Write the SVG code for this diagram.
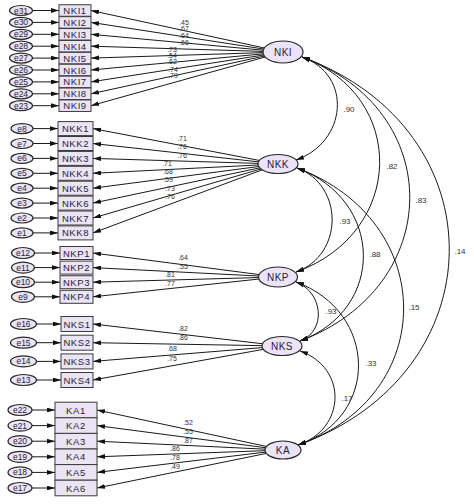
<svg xmlns="http://www.w3.org/2000/svg" width="474" height="504" viewBox="0 0 474 504">
<style>
.bg{fill:#ffffff}
.box{fill:#ebe4f4;stroke:#3a3a3a;stroke-width:1}
.err{fill:#ebe4f4;stroke:#2a2a2a;stroke-width:1.2}
.lat{fill:#ece4f6;stroke:#2a2a2a;stroke-width:1.2}
.bt{font-family:"Liberation Sans",Arial,sans-serif;font-size:9.5px;fill:#1e1e40;text-anchor:middle;letter-spacing:0.6px}
.et{font-family:"Liberation Sans",Arial,sans-serif;font-size:8.5px;fill:#1e1e40;text-anchor:middle}
.lt{font-family:"Liberation Sans",Arial,sans-serif;font-size:10px;fill:#1e1e40;text-anchor:middle;letter-spacing:0.5px}
.ct{font-family:"Liberation Sans",Arial,sans-serif;font-size:7px;fill:#333;text-anchor:middle}
.rt{font-family:"Liberation Sans",Arial,sans-serif;font-size:8px;fill:#333;text-anchor:middle}
.ln{stroke:#1a1a1a;stroke-width:1;fill:none;marker-end:url(#ah)}
.cv{stroke:#1a1a1a;stroke-width:1;fill:none;marker-start:url(#ah);marker-end:url(#ah)}
</style>
<defs>
<marker id="ah" viewBox="0 0 10 6" refX="10" refY="3" markerWidth="8" markerHeight="4.8" markerUnits="userSpaceOnUse" orient="auto-start-reverse">
<path d="M0,0 L10,3 L0,6 z" fill="#111"/>
</marker>
</defs>
<rect class="bg" x="0" y="0" width="474" height="504"/>
<g id="connectors">
<!-- error arrows NKI -->
<line class="ln" x1="32.5" y1="10.5" x2="59" y2="10.5"/>
<line class="ln" x1="32.5" y1="22.4" x2="59" y2="22.4"/>
<line class="ln" x1="32.5" y1="34.3" x2="59" y2="34.3"/>
<line class="ln" x1="32.5" y1="46.2" x2="59" y2="46.2"/>
<line class="ln" x1="32.5" y1="58.1" x2="59" y2="58.1"/>
<line class="ln" x1="32.5" y1="70" x2="59" y2="70"/>
<line class="ln" x1="32.5" y1="81.9" x2="59" y2="81.9"/>
<line class="ln" x1="32.5" y1="93.8" x2="59" y2="93.8"/>
<line class="ln" x1="32.5" y1="105.7" x2="59" y2="105.7"/>
<!-- error arrows NKK -->
<line class="ln" x1="33" y1="128.6" x2="58" y2="128.6"/>
<line class="ln" x1="33" y1="143.5" x2="58" y2="143.5"/>
<line class="ln" x1="33" y1="158.4" x2="58" y2="158.4"/>
<line class="ln" x1="33" y1="173.3" x2="58" y2="173.3"/>
<line class="ln" x1="33" y1="188.2" x2="58" y2="188.2"/>
<line class="ln" x1="33" y1="203.1" x2="58" y2="203.1"/>
<line class="ln" x1="33" y1="218" x2="58" y2="218"/>
<line class="ln" x1="33" y1="232.9" x2="58" y2="232.9"/>
<!-- error arrows NKP -->
<line class="ln" x1="34.5" y1="253" x2="60" y2="253"/>
<line class="ln" x1="34.5" y1="267.6" x2="60" y2="267.6"/>
<line class="ln" x1="34.5" y1="282.2" x2="60" y2="282.2"/>
<line class="ln" x1="34.5" y1="296.8" x2="60" y2="296.8"/>
<!-- error arrows NKS -->
<line class="ln" x1="36.5" y1="324" x2="61" y2="324"/>
<line class="ln" x1="36.5" y1="342.7" x2="61" y2="342.7"/>
<line class="ln" x1="36.5" y1="361.4" x2="61" y2="361.4"/>
<line class="ln" x1="36.5" y1="380" x2="61" y2="380"/>
<!-- error arrows KA -->
<line class="ln" x1="32" y1="410" x2="55" y2="410"/>
<line class="ln" x1="32" y1="425.6" x2="55" y2="425.6"/>
<line class="ln" x1="32" y1="441.2" x2="55" y2="441.2"/>
<line class="ln" x1="32" y1="456.8" x2="55" y2="456.8"/>
<line class="ln" x1="32" y1="472.4" x2="55" y2="472.4"/>
<line class="ln" x1="32" y1="488" x2="55" y2="488"/>
<!-- loadings NKI -->
<line class="ln" x1="283" y1="52" x2="91" y2="10.5"/>
<line class="ln" x1="283" y1="52" x2="91" y2="22.4"/>
<line class="ln" x1="283" y1="52" x2="91" y2="34.3"/>
<line class="ln" x1="283" y1="52" x2="91" y2="46.2"/>
<line class="ln" x1="283" y1="52" x2="91" y2="58.1"/>
<line class="ln" x1="283" y1="52" x2="91" y2="70"/>
<line class="ln" x1="283" y1="52" x2="91" y2="81.9"/>
<line class="ln" x1="283" y1="52" x2="91" y2="93.8"/>
<line class="ln" x1="283" y1="52" x2="91" y2="105.7"/>
<!-- loadings NKK -->
<line class="ln" x1="278" y1="164" x2="93" y2="128.6"/>
<line class="ln" x1="278" y1="164" x2="93" y2="143.5"/>
<line class="ln" x1="278" y1="164" x2="93" y2="158.4"/>
<line class="ln" x1="278" y1="164" x2="93" y2="173.3"/>
<line class="ln" x1="278" y1="164" x2="93" y2="188.2"/>
<line class="ln" x1="278" y1="164" x2="93" y2="203.1"/>
<line class="ln" x1="278" y1="164" x2="93" y2="218"/>
<line class="ln" x1="278" y1="164" x2="93" y2="232.9"/>
<!-- loadings NKP -->
<line class="ln" x1="278" y1="277" x2="93" y2="253"/>
<line class="ln" x1="278" y1="277" x2="93" y2="267.6"/>
<line class="ln" x1="278" y1="277" x2="93" y2="282.2"/>
<line class="ln" x1="278" y1="277" x2="93" y2="296.8"/>
<!-- loadings NKS -->
<line class="ln" x1="282" y1="346" x2="93" y2="324"/>
<line class="ln" x1="282" y1="346" x2="93" y2="342.7"/>
<line class="ln" x1="282" y1="346" x2="93" y2="361.4"/>
<line class="ln" x1="282" y1="346" x2="93" y2="380"/>
<!-- loadings KA -->
<line class="ln" x1="283" y1="450" x2="97" y2="410"/>
<line class="ln" x1="283" y1="450" x2="97" y2="425.6"/>
<line class="ln" x1="283" y1="450" x2="97" y2="441.2"/>
<line class="ln" x1="283" y1="450" x2="97" y2="456.8"/>
<line class="ln" x1="283" y1="450" x2="97" y2="472.4"/>
<line class="ln" x1="283" y1="450" x2="97" y2="488"/>
<!-- correlations -->
<path class="cv" d="M302,57 C353,75 347,142 296,160"/>
<path class="cv" d="M302,57 C408,96 405,233 296,272"/>
<path class="cv" d="M302,57 C447,110 445,287 300,341"/>
<path class="cv" d="M302,57 C501,130 497,374 298,445"/>
<path class="cv" d="M297,168 C344,185 344,255 296,272"/>
<path class="cv" d="M297,168 C384,200 386,309 300,341"/>
<path class="cv" d="M297,168 C439,221 439,396 298,445"/>
<path class="cv" d="M296,282 C323,292 327,331 300,341"/>
<path class="cv" d="M296,282 C378,312 380,417 298,445"/>
<path class="cv" d="M300,351 C348,368 346,429 298,445"/>
<!-- loading labels -->
<text class="ct" x="184" y="25">.45</text>
<text class="ct" x="184" y="30.5">.67</text>
<text class="ct" x="184" y="37.5">.64</text>
<text class="ct" x="184" y="44.5">.66</text>
<text class="ct" x="172" y="51.5">.73</text>
<text class="ct" x="172" y="57.5">.54</text>
<text class="ct" x="172" y="64">.62</text>
<text class="ct" x="173" y="72">.74</text>
<text class="ct" x="173" y="78">.79</text>
<text class="ct" x="182" y="140.5">.71</text>
<text class="ct" x="182" y="148.5">.76</text>
<text class="ct" x="182" y="157.5">.76</text>
<text class="ct" x="167" y="165.5">.71</text>
<text class="ct" x="168" y="173.5">.68</text>
<text class="ct" x="168" y="181.5">.59</text>
<text class="ct" x="170" y="190.5">.73</text>
<text class="ct" x="170" y="198.5">.76</text>
<text class="ct" x="183" y="259.5">.64</text>
<text class="ct" x="183" y="268.5">.55</text>
<text class="ct" x="170" y="276.5">.81</text>
<text class="ct" x="170" y="285.5">.77</text>
<text class="ct" x="183" y="330.5">.82</text>
<text class="ct" x="183" y="339.5">.86</text>
<text class="ct" x="172" y="350.5">.68</text>
<text class="ct" x="172" y="360.5">.75</text>
<text class="ct" x="188" y="424.5">.52</text>
<text class="ct" x="188" y="433.5">.55</text>
<text class="ct" x="188" y="442.5">.87</text>
<text class="ct" x="175" y="450.5">.86</text>
<text class="ct" x="175" y="459.5">.78</text>
<text class="ct" x="175" y="468.5">.49</text>
<!-- correlation labels -->
<text class="rt" x="349" y="112">.90</text>
<text class="rt" x="392" y="169">.82</text>
<text class="rt" x="421" y="203">.83</text>
<text class="rt" x="460" y="254">.14</text>
<text class="rt" x="345" y="224">.93</text>
<text class="rt" x="375" y="257">.88</text>
<text class="rt" x="414" y="310">.15</text>
<text class="rt" x="331" y="314">.93</text>
<text class="rt" x="371" y="366">.33</text>
<text class="rt" x="347" y="401">.17</text>
</g>
<!-- latent variables -->
<g id="NKI"><ellipse class="lat" cx="283" cy="52" rx="20" ry="11"/><text class="lt" x="283" y="55.5">NKI</text></g>
<g id="NKK"><ellipse class="lat" cx="278" cy="164" rx="20" ry="9.5"/><text class="lt" x="278" y="167.5">NKK</text></g>
<g id="NKP"><ellipse class="lat" cx="278" cy="277" rx="19.5" ry="10"/><text class="lt" x="278" y="280.5">NKP</text></g>
<g id="NKS"><ellipse class="lat" cx="282" cy="346" rx="20" ry="9.5"/><text class="lt" x="282" y="349.5">NKS</text></g>
<g id="KA"><ellipse class="lat" cx="283" cy="450" rx="18" ry="9"/><text class="lt" x="283" y="453.5">KA</text></g>
<!-- NKI indicators -->
<g id="NKI1"><rect class="box" x="59" y="4.75" width="32" height="11.5"/><text class="bt" x="75" y="14">NKI1</text></g>
<g id="NKI2"><rect class="box" x="59" y="16.65" width="32" height="11.5"/><text class="bt" x="75" y="25.9">NKI2</text></g>
<g id="NKI3"><rect class="box" x="59" y="28.55" width="32" height="11.5"/><text class="bt" x="75" y="37.8">NKI3</text></g>
<g id="NKI4"><rect class="box" x="59" y="40.45" width="32" height="11.5"/><text class="bt" x="75" y="49.7">NKI4</text></g>
<g id="NKI5"><rect class="box" x="59" y="52.35" width="32" height="11.5"/><text class="bt" x="75" y="61.6">NKI5</text></g>
<g id="NKI6"><rect class="box" x="59" y="64.25" width="32" height="11.5"/><text class="bt" x="75" y="73.5">NKI6</text></g>
<g id="NKI7"><rect class="box" x="59" y="76.15" width="32" height="11.5"/><text class="bt" x="75" y="85.4">NKI7</text></g>
<g id="NKI8"><rect class="box" x="59" y="88.05" width="32" height="11.5"/><text class="bt" x="75" y="97.3">NKI8</text></g>
<g id="NKI9"><rect class="box" x="59" y="99.95" width="32" height="11.5"/><text class="bt" x="75" y="109.2">NKI9</text></g>
<!-- NKI errors -->
<g id="e31"><ellipse class="err" cx="21" cy="10.5" rx="11.5" ry="5"/><text class="et" x="21" y="13.5">e31</text></g>
<g id="e30"><ellipse class="err" cx="21" cy="22.4" rx="11.5" ry="5"/><text class="et" x="21" y="25.4">e30</text></g>
<g id="e29"><ellipse class="err" cx="21" cy="34.3" rx="11.5" ry="5"/><text class="et" x="21" y="37.3">e29</text></g>
<g id="e28"><ellipse class="err" cx="21" cy="46.2" rx="11.5" ry="5"/><text class="et" x="21" y="49.2">e28</text></g>
<g id="e27"><ellipse class="err" cx="21" cy="58.1" rx="11.5" ry="5"/><text class="et" x="21" y="61.1">e27</text></g>
<g id="e26"><ellipse class="err" cx="21" cy="70" rx="11.5" ry="5"/><text class="et" x="21" y="73">e26</text></g>
<g id="e25"><ellipse class="err" cx="21" cy="81.9" rx="11.5" ry="5"/><text class="et" x="21" y="84.9">e25</text></g>
<g id="e24"><ellipse class="err" cx="21" cy="93.8" rx="11.5" ry="5"/><text class="et" x="21" y="96.8">e24</text></g>
<g id="e23"><ellipse class="err" cx="21" cy="105.7" rx="11.5" ry="5"/><text class="et" x="21" y="108.7">e23</text></g>
<!-- NKK indicators -->
<g id="NKK1"><rect class="box" x="58" y="121.6" width="35" height="14"/><text class="bt" x="75.5" y="132.1">NKK1</text></g>
<g id="NKK2"><rect class="box" x="58" y="136.5" width="35" height="14"/><text class="bt" x="75.5" y="147">NKK2</text></g>
<g id="NKK3"><rect class="box" x="58" y="151.4" width="35" height="14"/><text class="bt" x="75.5" y="161.9">NKK3</text></g>
<g id="NKK4"><rect class="box" x="58" y="166.3" width="35" height="14"/><text class="bt" x="75.5" y="176.8">NKK4</text></g>
<g id="NKK5"><rect class="box" x="58" y="181.2" width="35" height="14"/><text class="bt" x="75.5" y="191.7">NKK5</text></g>
<g id="NKK6"><rect class="box" x="58" y="196.1" width="35" height="14"/><text class="bt" x="75.5" y="206.6">NKK6</text></g>
<g id="NKK7"><rect class="box" x="58" y="211" width="35" height="14"/><text class="bt" x="75.5" y="221.5">NKK7</text></g>
<g id="NKK8"><rect class="box" x="58" y="225.9" width="35" height="14"/><text class="bt" x="75.5" y="236.4">NKK8</text></g>
<!-- NKK errors -->
<g id="e8"><ellipse class="err" cx="22" cy="128.6" rx="11" ry="5"/><text class="et" x="22" y="131.6">e8</text></g>
<g id="e7"><ellipse class="err" cx="22" cy="143.5" rx="11" ry="5"/><text class="et" x="22" y="146.5">e7</text></g>
<g id="e6"><ellipse class="err" cx="22" cy="158.4" rx="11" ry="5"/><text class="et" x="22" y="161.4">e6</text></g>
<g id="e5"><ellipse class="err" cx="22" cy="173.3" rx="11" ry="5"/><text class="et" x="22" y="176.3">e5</text></g>
<g id="e4"><ellipse class="err" cx="22" cy="188.2" rx="11" ry="5"/><text class="et" x="22" y="191.2">e4</text></g>
<g id="e3"><ellipse class="err" cx="22" cy="203.1" rx="11" ry="5"/><text class="et" x="22" y="206.1">e3</text></g>
<g id="e2"><ellipse class="err" cx="22" cy="218" rx="11" ry="5"/><text class="et" x="22" y="221">e2</text></g>
<g id="e1"><ellipse class="err" cx="22" cy="232.9" rx="11" ry="5"/><text class="et" x="22" y="235.9">e1</text></g>
<!-- NKP indicators -->
<g id="NKP1"><rect class="box" x="60" y="246.5" width="33" height="13"/><text class="bt" x="76.5" y="256.5">NKP1</text></g>
<g id="NKP2"><rect class="box" x="60" y="261.1" width="33" height="13"/><text class="bt" x="76.5" y="271.1">NKP2</text></g>
<g id="NKP3"><rect class="box" x="60" y="275.7" width="33" height="13"/><text class="bt" x="76.5" y="285.7">NKP3</text></g>
<g id="NKP4"><rect class="box" x="60" y="290.3" width="33" height="13"/><text class="bt" x="76.5" y="300.3">NKP4</text></g>
<g id="e12"><ellipse class="err" cx="23" cy="253" rx="11.5" ry="5.5"/><text class="et" x="23" y="256">e12</text></g>
<g id="e11"><ellipse class="err" cx="23" cy="267.6" rx="11.5" ry="5.5"/><text class="et" x="23" y="270.6">e11</text></g>
<g id="e10"><ellipse class="err" cx="23" cy="282.2" rx="11.5" ry="5.5"/><text class="et" x="23" y="285.2">e10</text></g>
<g id="e9"><ellipse class="err" cx="23" cy="296.8" rx="11.5" ry="5.5"/><text class="et" x="23" y="299.8">e9</text></g>
<!-- NKS indicators -->
<g id="NKS1"><rect class="box" x="61" y="316.5" width="32" height="15"/><text class="bt" x="77" y="327.5">NKS1</text></g>
<g id="NKS2"><rect class="box" x="61" y="335.2" width="32" height="15"/><text class="bt" x="77" y="346.2">NKS2</text></g>
<g id="NKS3"><rect class="box" x="61" y="353.9" width="32" height="15"/><text class="bt" x="77" y="364.9">NKS3</text></g>
<g id="NKS4"><rect class="box" x="61" y="372.5" width="32" height="15"/><text class="bt" x="77" y="383.5">NKS4</text></g>
<g id="e16"><ellipse class="err" cx="23.5" cy="324" rx="13" ry="5.5"/><text class="et" x="23.5" y="327">e16</text></g>
<g id="e15"><ellipse class="err" cx="23.5" cy="342.7" rx="13" ry="5.5"/><text class="et" x="23.5" y="345.7">e15</text></g>
<g id="e14"><ellipse class="err" cx="23.5" cy="361.4" rx="13" ry="5.5"/><text class="et" x="23.5" y="364.4">e14</text></g>
<g id="e13"><ellipse class="err" cx="23.5" cy="380" rx="13" ry="5.5"/><text class="et" x="23.5" y="383">e13</text></g>
<!-- KA indicators -->
<g id="KA1"><rect class="box" x="55" y="402.2" width="42" height="15.6"/><text class="bt" x="76" y="413.5">KA1</text></g>
<g id="KA2"><rect class="box" x="55" y="417.8" width="42" height="15.6"/><text class="bt" x="76" y="429.1">KA2</text></g>
<g id="KA3"><rect class="box" x="55" y="433.4" width="42" height="15.6"/><text class="bt" x="76" y="444.7">KA3</text></g>
<g id="KA4"><rect class="box" x="55" y="449" width="42" height="15.6"/><text class="bt" x="76" y="460.3">KA4</text></g>
<g id="KA5"><rect class="box" x="55" y="464.6" width="42" height="15.6"/><text class="bt" x="76" y="475.9">KA5</text></g>
<g id="KA6"><rect class="box" x="55" y="480.2" width="42" height="15.6"/><text class="bt" x="76" y="491.5">KA6</text></g>
<g id="e22"><ellipse class="err" cx="20" cy="410" rx="12" ry="5.5"/><text class="et" x="20" y="413">e22</text></g>
<g id="e21"><ellipse class="err" cx="20" cy="425.6" rx="12" ry="5.5"/><text class="et" x="20" y="428.6">e21</text></g>
<g id="e20"><ellipse class="err" cx="20" cy="441.2" rx="12" ry="5.5"/><text class="et" x="20" y="444.2">e20</text></g>
<g id="e19"><ellipse class="err" cx="20" cy="456.8" rx="12" ry="5.5"/><text class="et" x="20" y="459.8">e19</text></g>
<g id="e18"><ellipse class="err" cx="20" cy="472.4" rx="12" ry="5.5"/><text class="et" x="20" y="475.4">e18</text></g>
<g id="e17"><ellipse class="err" cx="20" cy="488" rx="12" ry="5.5"/><text class="et" x="20" y="491">e17</text></g>
</svg>
